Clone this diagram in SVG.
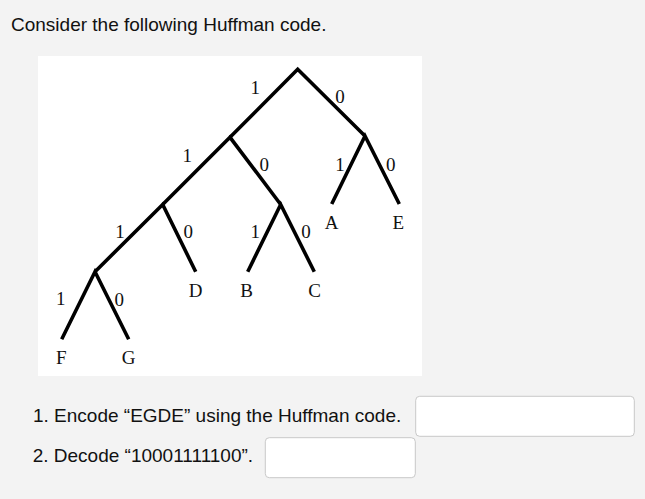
<svg xmlns="http://www.w3.org/2000/svg" width="645" height="499" viewBox="0 0 645 499">
<style>
.ui{font-family:"Liberation Sans",Arial,sans-serif;font-size:19px;fill:#111}
.lbl{font-family:"Liberation Serif","Times New Roman",serif;font-size:19px;fill:#111;text-anchor:middle}
.edge{fill:none;stroke:#000;stroke-width:3.6;stroke-linejoin:miter;stroke-linecap:butt}
.box{fill:#fff;stroke:#c8c8c8;stroke-width:1}
</style>
<rect x="0" y="0" width="645" height="499" fill="#f3f3f3"/>
<text class="ui" x="11" y="30.5">Consider the following Huffman code.</text>
<rect x="38" y="56" width="384" height="320" fill="#fff"/>
<g id="connectors">
<polyline class="edge" points="230,137.3 297.7,69.3 365,136"/>
<polyline class="edge" points="331.7,204 365,136 399.3,204"/>
<polyline class="edge" points="162.7,204.5 230,137.3 280.7,204.5"/>
<polyline class="edge" points="247.7,271.7 280.7,204.5 314.3,271.7"/>
<polyline class="edge" points="95,271.7 162.7,204.5 195.7,271.7"/>
<polyline class="edge" points="61.7,339.3 95,271.7 128.7,339.3"/>
<text class="lbl" x="255.3" y="94">1</text>
<text class="lbl" x="340" y="103">0</text>
<text class="lbl" x="187.3" y="161.5">1</text>
<text class="lbl" x="264.3" y="170.5">0</text>
<text class="lbl" x="340" y="170.5">1</text>
<text class="lbl" x="390.7" y="170.5">0</text>
<text class="lbl" x="120" y="238">1</text>
<text class="lbl" x="188.3" y="238">0</text>
<text class="lbl" x="255.3" y="238">1</text>
<text class="lbl" x="306" y="238">0</text>
<text class="lbl" x="60.7" y="305">1</text>
<text class="lbl" x="119.3" y="305.5">0</text>
</g>
<g id="node-A"><text class="lbl" x="331.7" y="229">A</text></g>
<g id="node-E"><text class="lbl" x="398.3" y="229">E</text></g>
<g id="node-D"><text class="lbl" x="195.7" y="297">D</text></g>
<g id="node-B"><text class="lbl" x="246.7" y="297">B</text></g>
<g id="node-C"><text class="lbl" x="314.7" y="297">C</text></g>
<g id="node-F"><text class="lbl" x="61.3" y="363.5">F</text></g>
<g id="node-G"><text class="lbl" x="128.7" y="363.5">G</text></g>
<text class="ui" x="33" y="421.7">1. Encode “EGDE” using the Huffman code.</text>
<rect class="box" x="415.7" y="396.3" width="218.6" height="40" rx="4"/>
<text class="ui" x="32.7" y="462.3">2. Decode “10001111100”.</text>
<rect class="box" x="265.3" y="437.7" width="150" height="40" rx="4"/>
</svg>
